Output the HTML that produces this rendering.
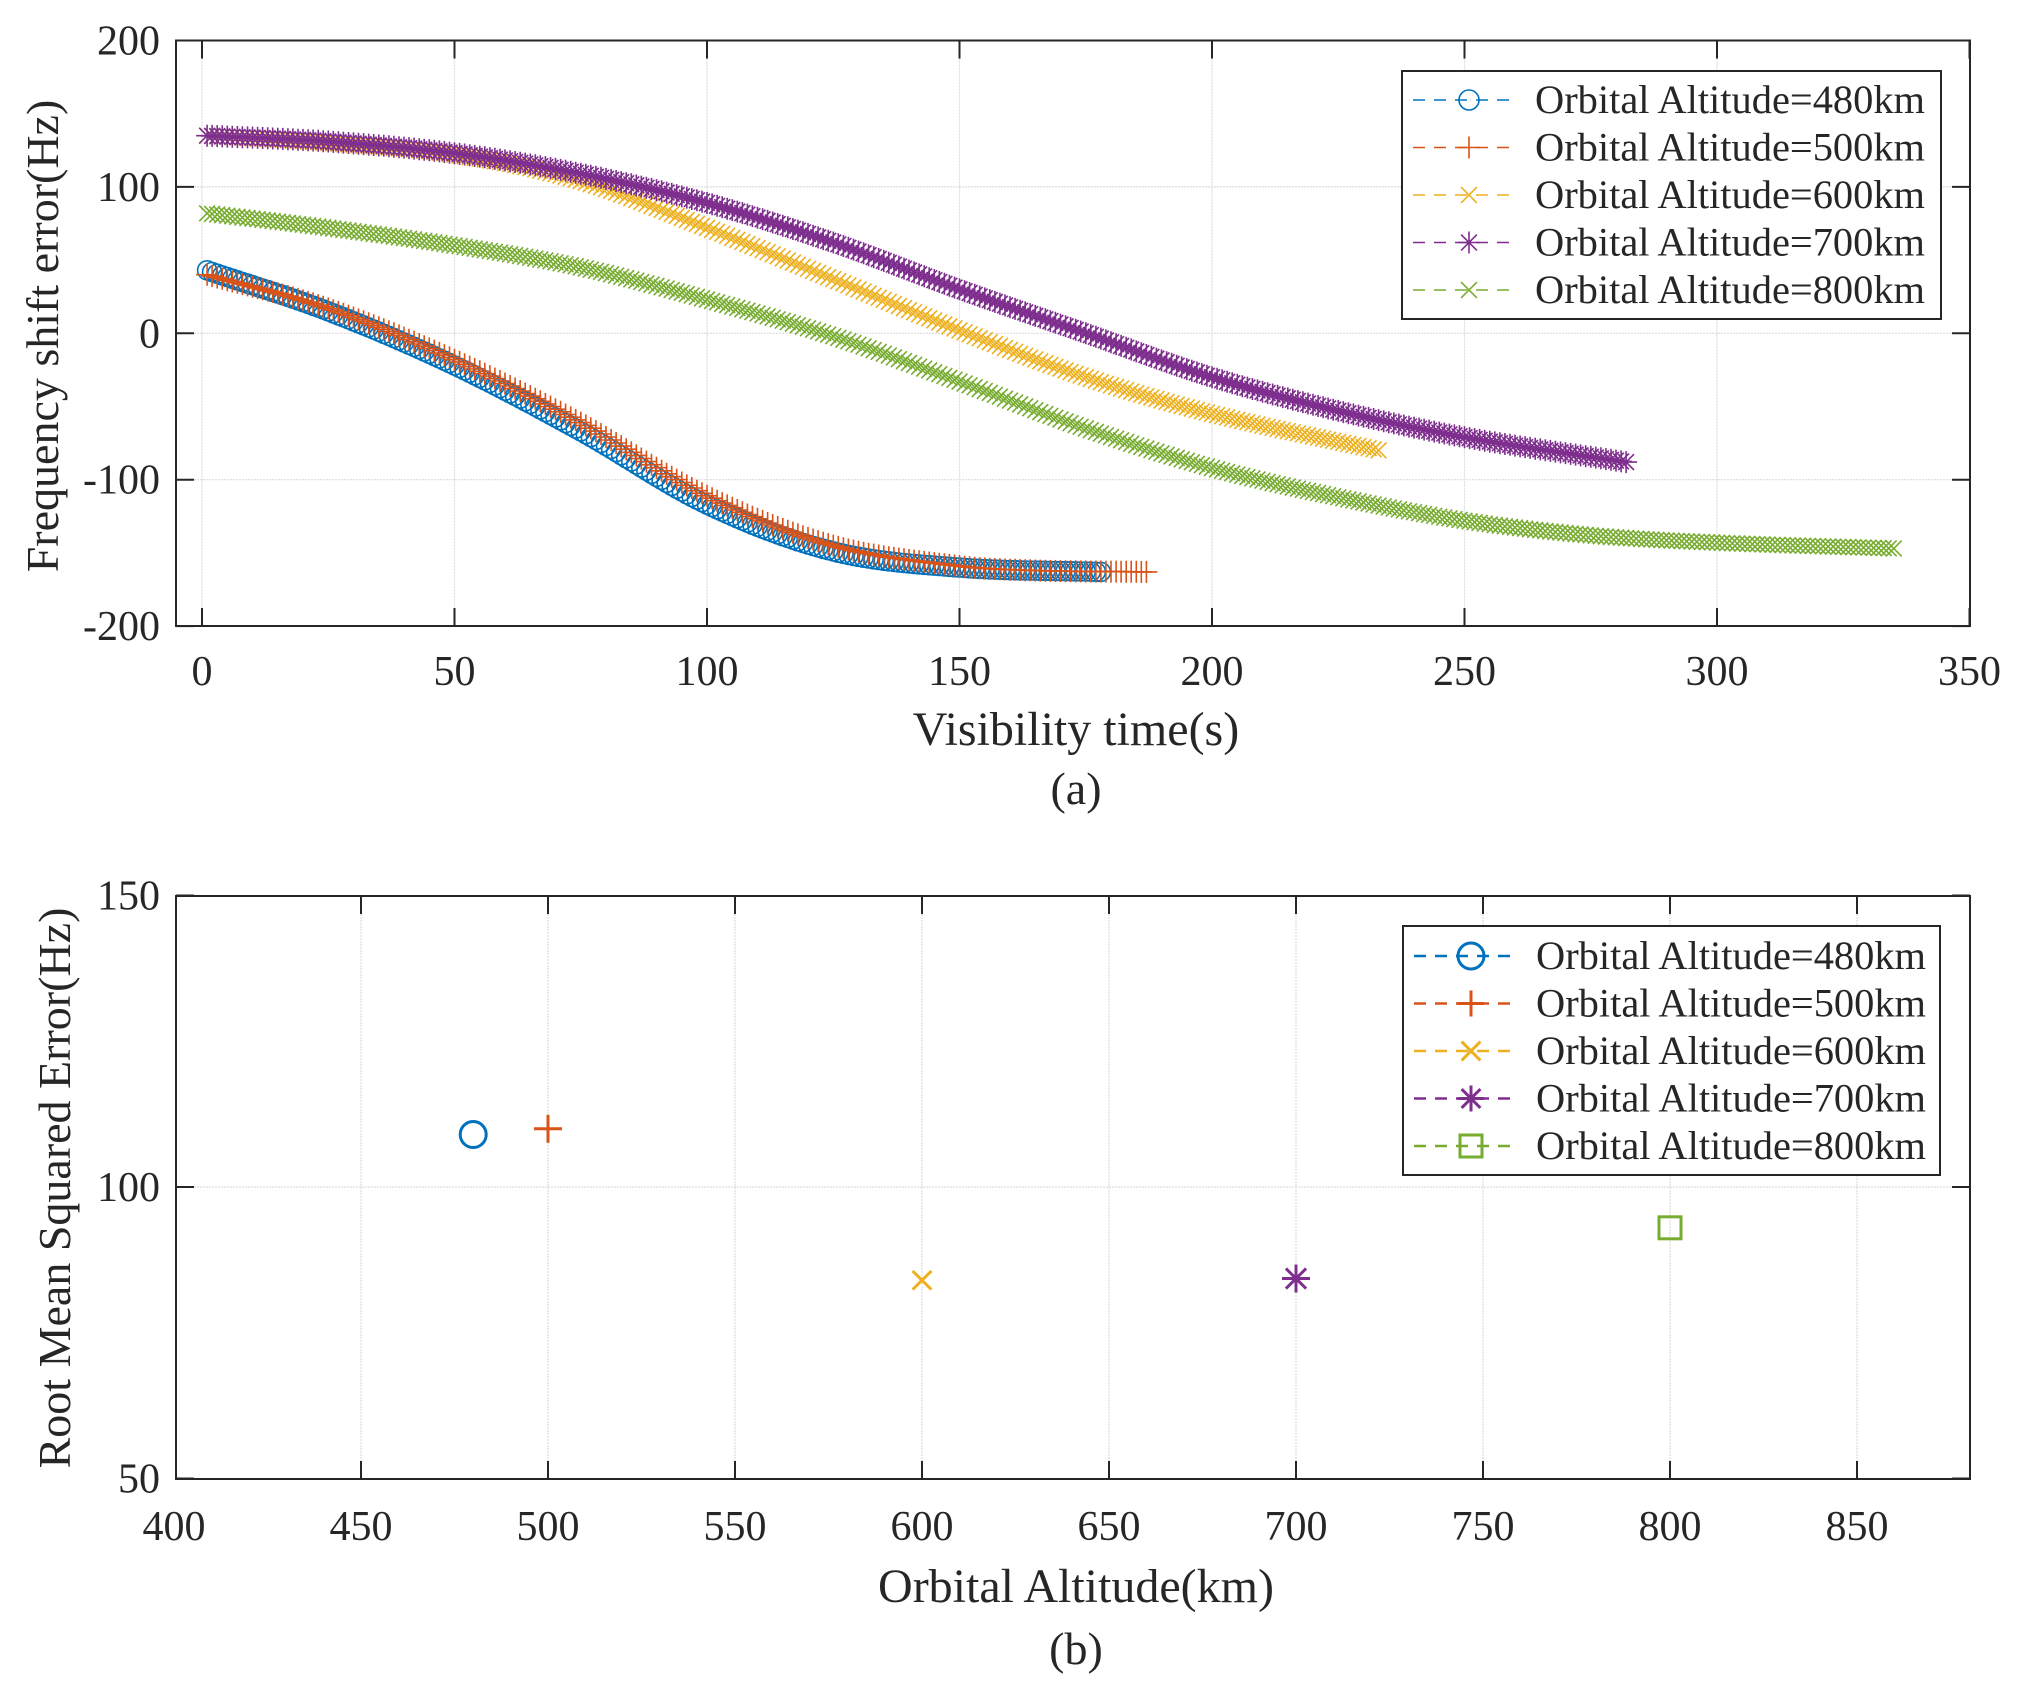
<!DOCTYPE html>
<html><head><meta charset="utf-8"><style>
html,body{margin:0;padding:0;background:#fff;}
svg{display:block;}
text{font-family:"Liberation Serif",serif;fill:#262626;}
</style></head><body>
<svg id="s" width="2032" height="1684" xmlns="http://www.w3.org/2000/svg"></svg>
<script>
const S=document.getElementById('s');
let h='';
const C={b:'#0072BD',o:'#D95319',y:'#EDB120',p:'#7E2F8E',g:'#77AC30'};
function f1(n){return Math.round(n*10)/10;}
function mk(type,x,y,r,c,w){
  x=+x;y=+y;w=w||1.6;
  if(type==='o')return `<circle cx="${x}" cy="${y}" r="${r}" fill="none" stroke="${c}" stroke-width="${w}"/>`;
  if(type==='+')return `<path d="M${f1(x-r)} ${y}H${f1(x+r)}M${x} ${f1(y-r)}V${f1(y+r)}" fill="none" stroke="${c}" stroke-width="${w}"/>`;
  if(type==='x'){const d=r*0.72;return `<path d="M${f1(x-d)} ${f1(y-d)}L${f1(x+d)} ${f1(y+d)}M${f1(x-d)} ${f1(y+d)}L${f1(x+d)} ${f1(y-d)}" fill="none" stroke="${c}" stroke-width="${w}"/>`;}
  if(type==='*'){const d=r*0.72;return `<path d="M${f1(x-r)} ${y}H${f1(x+r)}M${x} ${f1(y-r)}V${f1(y+r)}M${f1(x-d)} ${f1(y-d)}L${f1(x+d)} ${f1(y+d)}M${f1(x-d)} ${f1(y+d)}L${f1(x+d)} ${f1(y-d)}" fill="none" stroke="${c}" stroke-width="${w}"/>`;}
  if(type==='s')return `<rect x="${x-r}" y="${y-r}" width="${2*r}" height="${2*r}" fill="none" stroke="${c}" stroke-width="${w}"/>`;
}
const L=176,R=1970,T=40.5,B=626;
const tx=t=>202+5.05*t, ty=v=>333.3-1.464*v;
for(let t=0;t<=350;t+=50){h+=`<line x1="${tx(t)}" y1="${T}" x2="${tx(t)}" y2="${B}" stroke="#dcdcdc" stroke-width="1.2" stroke-dasharray="2,1"/>`;}
for(let v=-200;v<=200;v+=100){h+=`<line x1="${L}" y1="${ty(v)}" x2="${R}" y2="${ty(v)}" stroke="#dcdcdc" stroke-width="1.2" stroke-dasharray="2,1"/>`;}
function smooth(pts){
  return t=>{let i=0;while(i<pts.length-2&&t>pts[i+1][0])i++;
    const p0=pts[Math.max(i-1,0)],p1=pts[i],p2=pts[i+1],p3=pts[Math.min(i+2,pts.length-1)];
    const u=(t-p1[0])/(p2[0]-p1[0]);
    const m1=(p2[1]-p0[1])/(p2[0]-p0[0])*(p2[0]-p1[0]),m2=(p3[1]-p1[1])/(p3[0]-p1[0])*(p2[0]-p1[0]);
    const u2=u*u,u3=u2*u;
    return (2*u3-3*u2+1)*p1[1]+(u3-2*u2+u)*m1+(-2*u3+3*u2)*p2[1]+(u3-u2)*m2;};
}
const series=[
 {c:C.g,m:'x',end:335,pts:[[1,82],[25,72],[50,60],[75,45],[100,23],[125,-2],[150,-33],[175,-65],[200,-92],[225,-112],[250,-128],[275,-138],[300,-143],[335,-147]]},
 {c:C.y,m:'x',end:233,pts:[[1,135],[25,130],[50,122],[75,104],[100,72],[125,37],[150,2],[175,-30],[200,-55],[233,-80]]},
 {c:C.p,m:'*',end:282,pts:[[1,135],[25,131],[50,123],[75,109],[100,89],[125,62],[150,30],[175,0],[200,-30],[225,-53],[250,-71],[282,-88]]},
 {c:C.b,m:'o',end:178,pts:[[1,43],[25,15],[50,-22],[75,-67],[100,-117],[125,-149],[150,-160],[178,-163]]},
 {c:C.o,m:'+',end:187,pts:[[1,40],[25,17],[50,-18],[75,-61],[100,-111],[125,-145],[150,-159],[165,-162],[187,-163]]},
];
for(const s of series){const f=smooth(s.pts);
  const r=s.m==='o'?9.5:11;
  for(let t=1;t<=s.end;t+=1){h+=mk(s.m,f1(tx(t)),f1(ty(f(t))),r,s.c,1.6);}
}
h+=`<rect x="${L}" y="${T}" width="${R-L}" height="${B-T}" fill="none" stroke="#262626" stroke-width="2"/>`;
for(let t=0;t<=350;t+=50){h+=`<line x1="${tx(t)}" y1="${B}" x2="${tx(t)}" y2="${B-18}" stroke="#262626" stroke-width="2"/><line x1="${tx(t)}" y1="${T}" x2="${tx(t)}" y2="${T+18}" stroke="#262626" stroke-width="2"/>`;
 h+=`<text x="${tx(t)}" y="685" font-size="42" text-anchor="middle">${t}</text>`;}
for(let v=-200;v<=200;v+=100){h+=`<line x1="${L}" y1="${ty(v)}" x2="${L+18}" y2="${ty(v)}" stroke="#262626" stroke-width="2"/><line x1="${R}" y1="${ty(v)}" x2="${R-18}" y2="${ty(v)}" stroke="#262626" stroke-width="2"/>`;
 h+=`<text x="160" y="${ty(v)+14}" font-size="42" text-anchor="end">${v}</text>`;}
h+=`<text x="1076" y="745" font-size="48" text-anchor="middle">Visibility time(s)</text>`;
h+=`<text x="1076" y="804" font-size="46" text-anchor="middle">(a)</text>`;
h+=`<text transform="translate(58,336) rotate(-90)" font-size="46" text-anchor="middle">Frequency shift error(Hz)</text>`;
h+=`<rect x="1402" y="71" width="539" height="248" fill="#fff" stroke="#262626" stroke-width="2"/>`;
const lg=[[C.b,'o','480'],[C.o,'+','500'],[C.y,'x','600'],[C.p,'*','700'],[C.g,'x','800']];
lg.forEach((e,i)=>{const y=100+i*47.5;
 h+=`<line x1="1413" y1="${y}" x2="1517" y2="${y}" stroke="${e[0]}" stroke-width="1.5" stroke-dasharray="12,9"/>`;
 h+=mk(e[1],1469,y,e[1]==='o'?10:11,e[0],1.6);
 h+=`<text x="1535" y="${y+13}" font-size="40" textLength="390" lengthAdjust="spacingAndGlyphs">Orbital Altitude=${e[2]}km</text>`;});
const L2=176,R2=1970,T2=896,B2=1479;
const bx=v=>174+3.74*(v-400), by=v=>1187-5.83*(v-100);
for(let v=450;v<=850;v+=50){h+=`<line x1="${bx(v)}" y1="${T2}" x2="${bx(v)}" y2="${B2}" stroke="#dcdcdc" stroke-width="1.2" stroke-dasharray="2,1"/>`;}
h+=`<line x1="${L2}" y1="${by(100)}" x2="${R2}" y2="${by(100)}" stroke="#dcdcdc" stroke-width="1.2" stroke-dasharray="2,1"/>`;
h+=`<rect x="${L2}" y="${T2}" width="${R2-L2}" height="${B2-T2}" fill="none" stroke="#262626" stroke-width="2"/>`;
for(let v=400;v<=850;v+=50){if(v>400)h+=`<line x1="${bx(v)}" y1="${B2}" x2="${bx(v)}" y2="${B2-18}" stroke="#262626" stroke-width="2"/><line x1="${bx(v)}" y1="${T2}" x2="${bx(v)}" y2="${T2+18}" stroke="#262626" stroke-width="2"/>`;
 h+=`<text x="${bx(v)}" y="1540" font-size="42" text-anchor="middle">${v}</text>`;}
for(let v=50;v<=150;v+=50){h+=`<line x1="${L2}" y1="${by(v)}" x2="${L2+18}" y2="${by(v)}" stroke="#262626" stroke-width="2"/><line x1="${R2}" y1="${by(v)}" x2="${R2-18}" y2="${by(v)}" stroke="#262626" stroke-width="2"/>`;
 h+=`<text x="160" y="${by(v)+14}" font-size="42" text-anchor="end">${v}</text>`;}
h+=mk('o',bx(480),by(109),13,C.b,3);
h+=mk('+',bx(500),by(110),14,C.o,3);
h+=mk('x',bx(600),by(84),13,C.y,3);
h+=mk('*',bx(700),by(84.3),14,C.p,3);
h+=mk('s',bx(800),by(93),11,C.g,3);
h+=`<text x="1076" y="1602" font-size="48" text-anchor="middle">Orbital Altitude(km)</text>`;
h+=`<text x="1076" y="1664" font-size="46" text-anchor="middle">(b)</text>`;
h+=`<text transform="translate(70,1188) rotate(-90)" font-size="46" text-anchor="middle">Root Mean Squared Error(Hz)</text>`;
h+=`<rect x="1403" y="926" width="537" height="249" fill="#fff" stroke="#262626" stroke-width="2"/>`;
const lg2=[[C.b,'o','480'],[C.o,'+','500'],[C.y,'x','600'],[C.p,'*','700'],[C.g,'s','800']];
lg2.forEach((e,i)=>{const y=956+i*47.5;
 h+=`<line x1="1414" y1="${y}" x2="1515" y2="${y}" stroke="${e[0]}" stroke-width="2.5" stroke-dasharray="12,9"/>`;
 h+=mk(e[1],1471,y,e[1]==='s'?11:13,e[0],3);
 h+=`<text x="1536" y="${y+13}" font-size="40" textLength="390" lengthAdjust="spacingAndGlyphs">Orbital Altitude=${e[2]}km</text>`;});
S.innerHTML=h;
</script>
</body></html>
